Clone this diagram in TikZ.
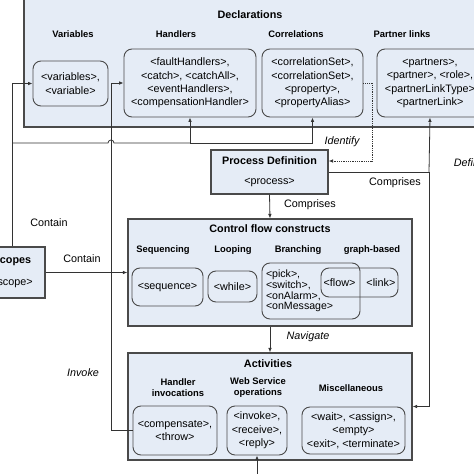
\documentclass[tikz,border=0pt]{standalone}
\usepackage{fontspec}
\setmainfont{Liberation Sans}
\usetikzlibrary{arrows.meta,positioning,calc}
\definecolor{panel}{HTML}{E5ECF6}
\definecolor{edge}{HTML}{4A4A4A}

\begin{document}
\begin{tikzpicture}
   [x=1pt,y=-1pt,
      group/.style={draw=edge,fill=panel,line width=1.1pt,inner sep=0pt},
      item/.style={draw=edge,fill=panel,line width=0.9pt,rounded corners=8pt,
      align=center,inner sep=2pt,font=\fontsize{10.8}{13.4}\selectfont},
head/.style={font=\fontsize{10.8}{13}\selectfont\bfseries,inner sep=1pt},
sub/.style={font=\fontsize{9.4}{11}\selectfont\bfseries,align=center,inner sep=1pt},
txt/.style={font=\fontsize{10.8}{13}\selectfont,inner sep=1pt},
rel/.style={font=\fontsize{10.8}{13}\selectfont,inner sep=1pt},
irel/.style={font=\fontsize{10.8}{13}\selectfont\itshape,inner sep=1pt},
link/.style={line width=0.8pt,black!80,>={Latex[length=4.5pt,width=3.6pt]}}]
\useasboundingbox (0,0) rectangle (474,474);
%%
%% Declarations
\node (decl) [group,minimum width=460pt,minimum height=134pt] at (254,60) {};
\node (declh) [head] at (250,15) {Declarations};
\node (varh) [sub] at (73,34) {Variables};
\node (handh) [sub] at (176,34) {Handlers};
\node (corrh) [sub] at (296,34) {Correlations};
\node (parth) [sub] at (402,34) {Partner links};
\node (vars) [item,minimum width=75pt,minimum height=45pt] at (70.5,83.5)
{<variables>,\\<variable>};
\node (hand) [item,minimum width=132pt,minimum height=68pt] at (190,83)
{<faultHandlers>,\\<catch>, <catchAll>,\\<eventHandlers>,\\<compensationHandler>};
\node (corr) [item,minimum width=101pt,minimum height=68pt] at (312.5,83)
{<correlationSet>,\\<correlationSet>,\\<property>,\\<propertyAlias>};
\node (part) [item,minimum width=106pt,minimum height=68pt] at (430,83)
{<partners>,\\<partner>, <role>,\\<partnerLinkType>\\<partnerLink>};
%%
%% Process definition
\node (proc) [group,minimum width=117pt,minimum height=44pt] at (269.5,172) {};
\node (proch) [head] at (269.5,161) {Process Definition};
\node (procx) [txt] at (269.5,182) {<process>};
%%
%% Control flow constructs
\node (ctrl) [group,minimum width=284pt,minimum height=107pt] at (270,272.5) {};
\node (ctrlh) [head] at (270,229) {Control flow constructs};
\node (seqh) [sub] at (163,250) {Sequencing};
\node (looph) [sub] at (233,250) {Looping};
\node (brnh) [sub] at (298,250) {Branching};
\node (grph) [sub] at (372,250) {graph-based};
\node (seq) [item,minimum width=71pt,minimum height=38pt] at (167.5,287) {<sequence>};
\node (whl) [item,minimum width=49pt,minimum height=31pt] at (232.5,286.5) {<while>};
\node (brn) [item,minimum width=98pt,minimum height=56pt,text width=90pt,align=left,
inner sep=4pt,font=\fontsize{10.6}{10.8}\selectfont] at (311,291)
{<pick>,\\<switch>,\\<onAlarm>,\\<onMessage>};
\node (grp) [item,fill=none,minimum width=77pt,minimum height=29pt] at (359.5,282.5)
{<flow>\hspace{11pt}<link>};
%%
%% Scopes
\node (scp) [group,minimum width=66pt,minimum height=51pt] at (12,272.5) {};
\node (scph) [head] at (12,261) {Scopes};
\node (scpx) [txt] at (12,283) {<scope>};
%%
%% Activities
\node (act) [group,minimum width=284pt,minimum height=107pt] at (270,406.5) {};
\node (acth) [head] at (268,364) {Activities};
\node (hinv) [sub] at (178,388) {Handler\\invocations};
\node (wsop) [sub] at (258,388) {Web Service\\operations};
\node (misch) [sub] at (351,388) {Miscellaneous};
\node (comp) [item,minimum width=84pt,minimum height=49pt] at (175,430.5)
{<compensate>,\\<throw>};
\node (ws) [item,minimum width=60pt,minimum height=49pt] at (257,430.5)
{<invoke>,\\<receive>,\\<reply>};
\node (misc) [item,minimum width=103pt,minimum height=47pt] at (353.5,430.5)
{<wait>, <assign>,\\<empty>\\<exit>, <terminate>};
%%
%% connectors
\coordinate (jc) at (12,143);
\coordinate (invx) at (111,0);
\coordinate (idx) at (372,161);
\coordinate (pj) at (429,172);
\coordinate (wsin) at (257,480);
\draw[link,->] (scp.north) |- (vars.west);
\draw[link] (jc) -- (108,143) arc[start angle=180,end angle=360,radius=3] -- (hand.south |- jc);
\draw[link,->] (hand.south |- jc) -- (hand.south);
\draw[link,->] (hand.south |- jc) -| (corr.south);
\draw[link,->] (comp.west) -- (comp.west -| invx) -- (hand.west -| invx) -- (hand.west);
\draw[link,->,densely dotted] (corr.east) -| (idx) -- (idx -| proc.east);
\draw[link] (proc.east) -- (pj);
\draw[link,->] (pj) -- (part.south);
\draw[link,->] (pj) |- (act.east);
\draw[link,->] (proc.south) -- (ctrl.north);
\draw[link,->] (scp.east) -- (ctrl.west);
\draw[link,->] (ctrl.south) -- (act.north);
\draw[link,->] (wsin) -- (ws.south);
%%
%% relation labels
\node (lcont) [rel] at (49,223) {Contain};
\node (lcont2) [rel] at (82,259) {Contain};
\node (lident) [irel] at (342,142) {Identify};
\node (lcomp) [rel] at (395,183) {Comprises};
\node (lcomp2) [rel] at (310,205) {Comprises};
\node (lnav) [irel] at (308,337) {Navigate};
\node (linv) [irel] at (83,373) {Invoke};
\node (ldef) [irel] at (469.5,163) {Define};
\end{tikzpicture}
\end{document}
